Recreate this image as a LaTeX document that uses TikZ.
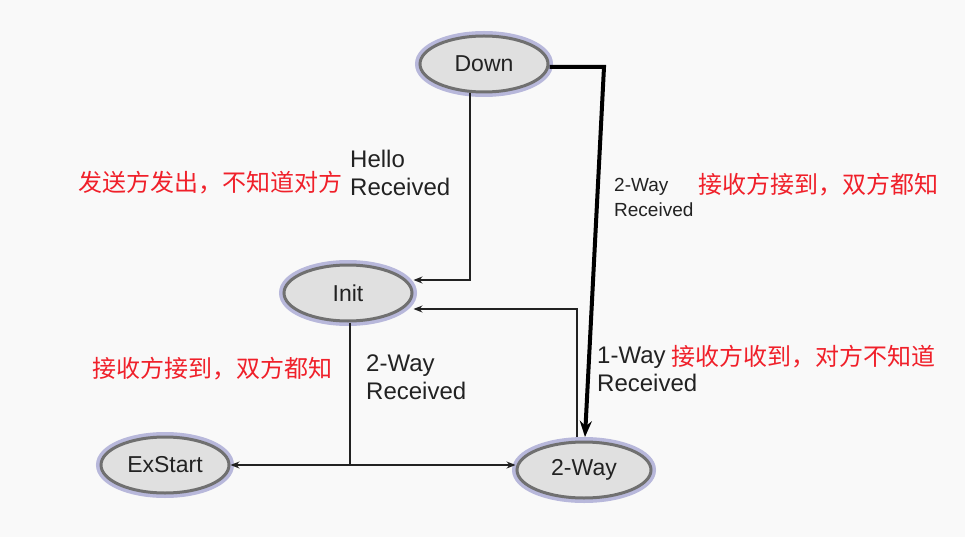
\documentclass[tikz,border=0pt]{standalone}
\usepackage{fontspec}
\setmainfont{Liberation Sans}
\newfontfamily\cjk{Noto Sans CJK SC}
\usetikzlibrary{shapes.geometric,arrows.meta}
\definecolor{bg}{HTML}{F9F9F9}
\definecolor{halo}{HTML}{A8A8D4}
\definecolor{fillc}{HTML}{E0E0E0}
\definecolor{rim}{HTML}{707070}
\definecolor{txt}{HTML}{222222}
\definecolor{redt}{HTML}{F0202A}
\begin{document}
\begin{tikzpicture}[x=1pt,y=-1pt,
  state/.style={ellipse,draw=rim,line width=3pt,fill=fillc,minimum width=128pt,minimum height=56pt,inner sep=0pt,font=\fontsize{23}{23}\selectfont,text=txt,
    preaction={draw=halo,line width=10pt,opacity=0.8}},
  conn/.style={draw=txt,line width=1.3pt,-{Stealth[length=9pt,width=7pt]}},
  lbl/.style={align=left,anchor=north west,font=\fontsize{24}{28}\selectfont,text=txt,inner sep=0pt},
  red/.style={anchor=west,font=\cjk\fontsize{24}{24}\selectfont,text=redt,inner sep=0pt}]
\fill[bg] (0,0) rectangle (965,537);
\useasboundingbox (0,0) rectangle (965,537);
\node[state] (down) at (484,64) {Down};
\node[state] (init) at (348,293) {Init};
\node[state] (ex) at (165,465) {ExStart};
\node[state,minimum width=134pt] (tw) at (584,470) {2-Way};
\coordinate (d1) at (470,280);
\draw[conn] (down.south -| d1) -- (d1) -- (init.east |- d1);
\coordinate (k1) at (604,67);
\draw[draw=black,line width=4pt,-{Stealth[length=16pt,width=12pt]}] (down.east |- k1) -- (k1) -- (585,437) coordinate (twtop);
\coordinate (u1) at (577,309);
\draw[conn] (577,437) -- (u1) -- (init.east |- u1);
\coordinate (j) at (350,465);
\draw[draw=txt,line width=1.3pt] (init.south -| j) -- (j);
\draw[conn] (j) -- (ex.east |- j);
\draw[conn] (j) -- (tw.west |- j);
\node[lbl] (l1) at (350,150) {Hello\\Received};
\node[red] (r1) at (78,183) {发送方发出，不知道对方};
\node[lbl,font=\fontsize{19}{25}\selectfont] (l2) at (614,178) {2-Way\\Received};
\node[red] (r2) at (698,185) {接收方接到，双方都知};
\node[lbl] (l3) at (366,355) {2-Way\\Received};
\node[red] (r3) at (92,369) {接收方接到，双方都知};
\node[lbl] (l4) at (597,347) {1-Way\\Received};
\node[red] (r4) at (671,357) {接收方收到，对方不知道};
\end{tikzpicture}
\end{document}
